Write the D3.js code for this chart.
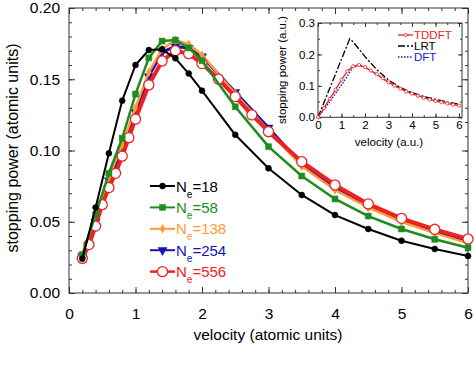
<!DOCTYPE html>
<html>
<head>
<meta charset="utf-8">
<script src="https://cdn.jsdelivr.net/npm/d3@7"></script>
<style>
  body { margin: 0; background: #fff; }
  svg { font-family: "Liberation Sans", Arial, sans-serif; }
  .tick line { stroke: #333; }
</style>
</head>
<body>
<div class="container"></div>
<script>
// main panel data
const velA = [0.2,0.4,0.6,0.8,1.0,1.2,1.4,1.6,1.8,2.0,2.5,3.0,3.5,4.0,4.5,5.0,5.5,6.0]
const velRed = [0.2,0.3,0.4,0.5,0.6,0.7,0.8,0.9,1.0,1.2,1.4,1.6,1.8,2.0,2.25,2.5,2.75,3.0,3.5,4.0,4.5,5.0,5.5,6.0]

const sp18  = [0.024,0.060,0.098,0.135,0.160,0.1705,0.171,0.1647,0.154,0.142,0.111,0.0875,0.0688,0.0547,0.0449,0.0367,0.0309,0.026]
const sp58  = [0.027,0.055,0.084,0.1086,0.1396,0.165,0.1768,0.1775,0.172,0.163,0.1307,0.1027,0.0821,0.066,0.054,0.0449,0.0377,0.0318]
const sp138 = [0.026,0.051,0.081,0.104,0.130,0.155,0.171,0.1775,0.1745,0.167,0.140,0.114,0.089,0.0723,0.060,0.050,0.042,0.035]
const sp254 = [0.026,0.050,0.079,0.101,0.127,0.152,0.169,0.173,0.172,0.166,0.141,0.116,0.090,0.074,0.061,0.051,0.043,0.036]
const sp556 = [0.0243,0.034,0.047,0.062,0.074,0.084,0.096,0.109,0.122,0.146,0.1628,0.170,0.168,0.161,0.150,0.1378,0.125,0.1132,0.0921,0.0758,0.0625,0.0524,0.0447,0.0379]

const xTicks = [0,1,2,3,4,5,6]
const yTicks = [0,0.05,0.10,0.15,0.20]

// inset data
const insVel = [0,0.25,0.5,0.75,1.0,1.25,1.5,1.75,2.0,2.25,2.5,2.75,3.0,3.25,3.5,3.75,4.0,4.25,4.5,4.75,5.0,5.25,5.5,5.75,6.0]
const insTDDFT = [0,0.03,0.06,0.09,0.122,0.150,0.166,0.170,0.163,0.152,0.140,0.127,0.114,0.103,0.093,0.084,0.077,0.070,0.063,0.058,0.053,0.049,0.045,0.041,0.038]
const lrtVel = [0,1.35,1.5,2.0,2.5,3.0,3.5,4.0,4.5,5.0,5.5,6.0]
const insLRT = [0,0.255,0.245,0.197,0.155,0.121,0.097,0.080,0.068,0.0585,0.050,0.043]
const dftVel = [0,0.5,1.0,1.5,1.75,2.0,2.5,3.0,4.0,5.0,6.0]
const insDFT = [0,0.05,0.105,0.163,0.168,0.162,0.139,0.113,0.076,0.053,0.038]

const w = 474
const h = 366

const svg = d3.select('.container').append('svg')
  .attr('width', w)
  .attr('height', h)

const xScale = d3.scaleLinear().domain([0,6]).range([69,468])
const yScale = d3.scaleLinear().domain([0,0.2]).range([293,8])

// inward ticks on all four sides
const drawFrame = (g, xs, ys, o) => {
  const [x0,x1] = xs.range()
  const [y0,y1] = ys.range()
  // bottom
  g.append('g').attr('transform', `translate(0,${y0})`)
    .call(d3.axisBottom(xs).tickValues(o.xMinor).tickSize(-o.minor).tickFormat(''))
  g.append('g').attr('transform', `translate(0,${y0})`)
    .call(d3.axisBottom(xs).tickValues(o.xMajor).tickSize(-o.major).tickPadding(o.xPad).tickFormat(o.xFmt))
  // top
  g.append('g').attr('transform', `translate(0,${y1})`)
    .call(d3.axisTop(xs).tickValues(o.xMinor).tickSize(-o.minor).tickFormat(''))
  g.append('g').attr('transform', `translate(0,${y1})`)
    .call(d3.axisTop(xs).tickValues(o.xMajor).tickSize(-o.major).tickFormat(''))
  // left
  g.append('g').attr('transform', `translate(${x0},0)`)
    .call(d3.axisLeft(ys).tickValues(o.yMinor).tickSize(-o.minor).tickFormat(''))
  g.append('g').attr('transform', `translate(${x0},0)`)
    .call(d3.axisLeft(ys).tickValues(o.yMajor).tickSize(-o.major).tickPadding(o.yPad).tickFormat(o.yFmt))
  // right
  g.append('g').attr('transform', `translate(${o.xRight},0)`)
    .call(d3.axisRight(ys).tickValues(o.yMinor).tickSize(-o.minor).tickFormat(''))
  g.append('g').attr('transform', `translate(${o.xRight},0)`)
    .call(d3.axisRight(ys).tickValues(o.yMajor).tickSize(-o.major).tickFormat(''))

  g.selectAll('.domain').remove()
  g.selectAll('.tick text').attr('fill', '#000').style('font-size', o.font + 'px')
  g.append('rect')
    .attr('x', x0).attr('y', y1)
    .attr('width', o.xRight - x0).attr('height', y0 - y1)
    .attr('fill', 'none').attr('stroke', '#333').attr('stroke-width', 1)
}

drawFrame(svg.append('g'), xScale, yScale, {
  xMajor: xTicks, xMinor: d3.range(0, 6.01, 0.2),
  yMajor: yTicks, yMinor: d3.range(0, 0.2001, 0.01),
  major: 6, minor: 3, xPad: 15, yPad: 9, font: 15.5,
  xFmt: d3.format('d'), yFmt: d3.format('.2f'), xRight: 468
})

// axis titles
svg.append('text')
  .attr('x', 268).attr('y', 340)
  .attr('text-anchor', 'middle')
  .style('font-size', '15.5px')
  .text('velocity (atomic units)')

svg.append('text')
  .attr('transform', 'translate(18,148) rotate(-90)')
  .attr('text-anchor', 'middle')
  .style('font-size', '16px')
  .text('stopping power (atomic units)')

// series
const series = [
  {name: '254', x: velA, y: sp254, color: '#1414b4', lw: 3, shape: 'tri'},
  {name: '138', x: velA, y: sp138, color: '#ff9933', lw: 2.5, shape: 'dia'},
  {name: '556', x: velRed, y: sp556, color: '#ee2222', lw: 4, shape: 'open'},
  {name: '58', x: velA, y: sp58, color: '#1e8c1e', lw: 2.5, shape: 'sq'},
  {name: '18', x: velA, y: sp18, color: '#000000', lw: 2, shape: 'dot'}
]

const symbolFor = s => {
  if (s === 'tri') return d3.symbol().type(d3.symbolTriangle).size(36)
  if (s === 'dia') return d3.symbol().type(d3.symbolDiamond).size(22)
  if (s === 'sq') return d3.symbol().type(d3.symbolSquare).size(36)
  return d3.symbol().type(d3.symbolCircle).size(s === 'open' ? 80 : 28)
}

const drawMarker = (sel, s) => {
  sel.append('path')
    .attr('d', symbolFor(s.shape)())
    .attr('transform', s.shape === 'tri' ? 'rotate(180)' : null)
    .attr('fill', s.shape === 'open' ? '#fff' : s.color)
    .attr('stroke', s.color)
    .attr('stroke-width', s.shape === 'open' ? 1.3 : 0.5)
}

const lineGen = d3.line()

series.forEach(s => {
  const pts = s.x.map((v, i) => [xScale(v), yScale(s.y[i])])
  const g = svg.append('g')
  g.append('path')
    .attr('d', lineGen(pts))
    .attr('fill', 'none')
    .attr('stroke', s.color)
    .attr('stroke-width', s.lw)
    .attr('stroke-linejoin', 'round')
  g.selectAll('g.m').data(pts).enter()
    .append('g').attr('class', 'm')
    .attr('transform', d => `translate(${d[0]},${d[1]})`)
    .each(function() { drawMarker(d3.select(this), s) })
})

// legend
const legendOrder = ['18','58','138','254','556']
const legend = svg.append('g').attr('id', 'legend')
legendOrder.forEach((n, i) => {
  const s = series.find(d => d.name === n)
  const yy = 186 + i * 21.4
  legend.append('line')
    .attr('x1', 150).attr('x2', 175).attr('y1', yy).attr('y2', yy)
    .attr('stroke', s.color).attr('stroke-width', s.lw === 4 ? 2.5 : 2)
  const m = legend.append('g').attr('transform', `translate(162.5,${yy})`)
  drawMarker(m, s)
  const t = legend.append('text')
    .attr('x', 176).attr('y', yy + 5.5)
    .attr('fill', s.color)
    .style('font-size', '15px')
  t.append('tspan').text('N')
  t.append('tspan').attr('dy', 6).style('font-size', '10px').text('e')
  t.append('tspan').attr('dy', -6).text('=' + n)
})

// inset
const ix = d3.scaleLinear().domain([0,6]).range([318,459])
const iy = d3.scaleLinear().domain([0,0.3]).range([117.3,25])
const inset = svg.append('g').attr('id', 'inset')
inset.append('rect')
  .attr('x', 318).attr('y', 23).attr('width', 144).attr('height', 94.3)
  .attr('fill', '#fff')

drawFrame(inset, ix, d3.scaleLinear().domain([0,0.3]).range([117.3,23]), {
  xMajor: xTicks, xMinor: d3.range(0, 6.01, 0.5),
  yMajor: [0,0.1,0.2,0.3], yMinor: d3.range(0, 0.301, 0.05),
  major: 4, minor: 2, xPad: 4, yPad: 3, font: 11.5,
  xFmt: d3.format('d'), yFmt: d3.format('.1f'), xRight: 462
})

inset.append('path')
  .attr('d', lineGen(lrtVel.map((v, i) => [ix(v), iy(insLRT[i])])))
  .attr('fill', 'none').attr('stroke', '#000').attr('stroke-width', 1.3)
  .attr('stroke-dasharray', '7,2,2,2')
inset.append('path')
  .attr('d', lineGen(dftVel.map((v, i) => [ix(v), iy(insDFT[i])])))
  .attr('fill', 'none').attr('stroke', '#1414d4').attr('stroke-width', 1.3)
  .attr('stroke-dasharray', '1.5,1.5')
const tdPts = insVel.map((v, i) => [ix(v), iy(insTDDFT[i])])
inset.append('path')
  .attr('d', lineGen(tdPts))
  .attr('fill', 'none').attr('stroke', '#ee2222').attr('stroke-width', 1.3)
inset.selectAll('circle.td').data(tdPts).enter()
  .append('circle').attr('class', 'td')
  .attr('cx', d => d[0]).attr('cy', d => d[1]).attr('r', 1.6)
  .attr('fill', '#fff').attr('stroke', '#ee2222').attr('stroke-width', 0.8)

// inset legend
const insLeg = [
  {label: 'TDDFT', color: '#ee2222', dash: null, y: 35},
  {label: 'LRT', color: '#000', dash: '7,2,2,2', y: 46},
  {label: 'DFT', color: '#1414d4', dash: '1.5,1.5', y: 57}
]
insLeg.forEach(d => {
  inset.append('line')
    .attr('x1', 398).attr('x2', 413).attr('y1', d.y).attr('y2', d.y)
    .attr('stroke', d.color).attr('stroke-width', 1.3)
    .attr('stroke-dasharray', d.dash)
  if (d.label === 'TDDFT') {
    inset.append('circle').attr('cx', 405.5).attr('cy', d.y).attr('r', 1.6)
      .attr('fill', '#fff').attr('stroke', d.color).attr('stroke-width', 0.8)
  }
  inset.append('text')
    .attr('x', 414).attr('y', d.y + 4)
    .attr('fill', d.color)
    .style('font-size', '11.5px')
    .text(d.label)
})

inset.append('text')
  .attr('x', 389).attr('y', 146)
  .attr('text-anchor', 'middle')
  .style('font-size', '11.5px')
  .text('velocity (a.u.)')
inset.append('text')
  .attr('transform', 'translate(286,70) rotate(-90)')
  .attr('text-anchor', 'middle')
  .style('font-size', '11.5px')
  .text('stopping power (a.u.)')
</script>
</body>
</html>
